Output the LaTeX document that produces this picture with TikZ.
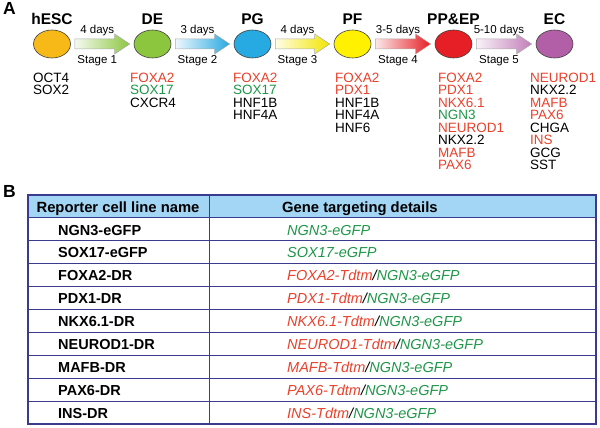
\documentclass[tikz,border=0pt]{standalone}
\usepackage{fontspec}
\setmainfont{Liberation Sans}
\usetikzlibrary{calc,shapes.geometric}
\definecolor{gred}{HTML}{E8412C}
\definecolor{ggreen}{HTML}{1E9648}
\definecolor{tline}{HTML}{3A3A8E}
\definecolor{thead}{HTML}{A3D5F4}
\definecolor{cesc}{HTML}{F6B918}
\definecolor{cde}{HTML}{8CC63F}
\definecolor{cpg}{HTML}{27A9E1}
\definecolor{cpf}{HTML}{FFF100}
\definecolor{cpp}{HTML}{E61E25}
\definecolor{cec}{HTML}{B35FA8}
\newcommand\gf[1]{\textcolor{ggreen}{#1}}
\newcommand\drtext[1]{\textcolor{gred}{#1-Tdtm}/\textcolor{ggreen}{NGN3-eGFP}}
\newcommand\stagearrow[4]{%
  \shadedraw[left color=#3, right color=#4, draw=gray!65, line width=0.5pt]
    ($(#1.east)+(4,-5)$) -- ($(#2.west)+(-19,-5)$) -- ($(#2.west)+(-19,-10)$)
    -- ($(#2.west)+(-4,0)$) -- ($(#2.west)+(-19,10)$) -- ($(#2.west)+(-19,5)$)
    -- ($(#1.east)+(4,5)$) -- cycle;}
\newcommand\arrowtext[4]{%
  \node[daylbl] (#1-d) at ($(#2.east)!0.5!(#3.west)+(-5,-10)$) {#4};}
\newcommand\stagetext[4]{%
  \node[daylbl] (#1-s) at ($(#2.east)!0.5!(#3.west)+(-5,20)$) {#4};}
\newcommand\genelist[3]{%
  \foreach \g/\c [count=\i from 0] in {#3}
    \node[gene, text=\c] (#1-g\i) at (#2, 82+12.5*\i) {\g};}
\begin{document}
\begin{tikzpicture}[x=1pt, y=-1pt,
  cell/.style={ellipse, draw=black!75, line width=0.6pt, minimum width=37pt, minimum height=28pt, inner sep=0pt},
  cellname/.style={anchor=base, inner sep=0pt, font=\fontsize{15.5}{18}\selectfont\bfseries},
  daylbl/.style={anchor=base, inner sep=0pt, font=\fontsize{11.5}{13}\selectfont},
  gene/.style={anchor=base west, inner sep=0pt, font=\fontsize{13.5}{14}\selectfont},
  panel/.style={anchor=base west, inner sep=0pt, font=\fontsize{17.5}{20}\selectfont\bfseries},
  thtext/.style={inner sep=0pt, font=\fontsize{14.8}{17}\selectfont\bfseries},
  c1text/.style={anchor=base west, inner sep=0pt, font=\fontsize{14.5}{17}\selectfont\bfseries},
  c2text/.style={anchor=base west, inner sep=0pt, font=\fontsize{14.5}{17}\selectfont\itshape},
  tborder/.style={draw=tline, line width=1.2pt},
  tgrid/.style={draw=tline, line width=1pt}]
\useasboundingbox (0,0) rectangle (600,428);

% Panel A
\node[panel] (pA) at (3,15) {A};
\node[cell, fill=cesc] (hesc) at (52,44) {};
\node[cell, fill=cde] (de) at (152.5,44) {};
\node[cell, fill=cpg] (pg) at (252.5,44) {};
\node[cell, fill=cpf] (pf) at (352.5,44) {};
\node[cell, fill=cpp] (pp) at (453.5,44) {};
\node[cell, fill=cec] (ec) at (554.5,44) {};

\node[cellname] (hesc-n) at (52,25) {hESC};
\node[cellname] (de-n) at (152.5,25) {DE};
\node[cellname] (pg-n) at (252.5,25) {PG};
\node[cellname] (pf-n) at (352.5,25) {PF};
\node[cellname] (pp-n) at (453.5,25) {PP\&EP};
\node[cellname] (ec-n) at (554.5,25) {EC};

\stagearrow{hesc}{de}{cde!8!white}{cde}
\stagearrow{de}{pg}{cpg!8!white}{cpg}
\stagearrow{pg}{pf}{cpf!10!white}{cpf!95!black}
\stagearrow{pf}{pp}{cpp!10!white}{cpp}
\stagearrow{pp}{ec}{cec!8!white}{cec!80!white}

\arrowtext{a1}{hesc}{de}{4 days}
\arrowtext{a2}{de}{pg}{3 days}
\arrowtext{a3}{pg}{pf}{4 days}
\arrowtext{a4}{pf}{pp}{3-5 days}
\arrowtext{a5}{pp}{ec}{5-10 days}
\stagetext{a1}{hesc}{de}{Stage 1}
\stagetext{a2}{de}{pg}{Stage 2}
\stagetext{a3}{pg}{pf}{Stage 3}
\stagetext{a4}{pf}{pp}{Stage 4}
\stagetext{a5}{pp}{ec}{Stage 5}

\genelist{hesc}{33}{OCT4/black, SOX2/black}
\genelist{de}{130}{FOXA2/gred, SOX17/ggreen, CXCR4/black}
\genelist{pg}{233}{FOXA2/gred, SOX17/ggreen, HNF1B/black, HNF4A/black}
\genelist{pf}{335}{FOXA2/gred, PDX1/gred, HNF1B/black, HNF4A/black, HNF6/black}
\genelist{pp}{438}{FOXA2/gred, PDX1/gred, NKX6.1/gred, NGN3/ggreen, NEUROD1/gred, NKX2.2/black, MAFB/gred, PAX6/gred}
\genelist{ec}{530}{NEUROD1/gred, NKX2.2/black, MAFB/gred, PAX6/gred, CHGA/black, INS/gred, GCG/black, SST/black}

% Panel B
\node[panel] (pB) at (3,197) {B};
\fill[thead] (28,195) rectangle (596,218);
\foreach \r in {1,...,9}
  \draw[tgrid] (28,{195+22.9*\r}) -- (596,{195+22.9*\r});
\draw[tgrid] (209,195) -- (209,424);
\draw[tborder] (28,195) rectangle (596,424);

\node[thtext, anchor=base] (h1) at (118,212) {Reporter cell line name};
\node[thtext, anchor=base west] (h2) at (282,212) {Gene targeting details};

\foreach \n/\d [count=\i from 0] in {
  NGN3-eGFP/\gf{NGN3-eGFP},
  SOX17-eGFP/\gf{SOX17-eGFP},
  FOXA2-DR/\drtext{FOXA2},
  PDX1-DR/\drtext{PDX1},
  NKX6.1-DR/\drtext{NKX6.1},
  NEUROD1-DR/\drtext{NEUROD1},
  MAFB-DR/\drtext{MAFB},
  PAX6-DR/\drtext{PAX6},
  INS-DR/\drtext{INS}} {
  \node[c1text] (r\i-a) at (58, 235+22.9*\i) {\n};
  \node[c2text] (r\i-b) at (287, 235+22.9*\i) {\d};
}
\end{tikzpicture}
\end{document}
